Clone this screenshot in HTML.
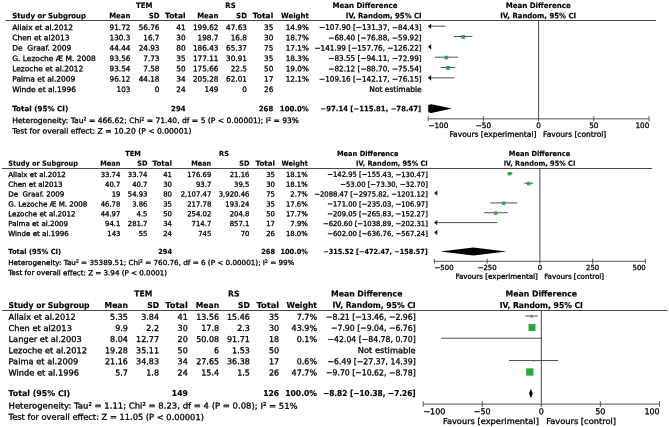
<!DOCTYPE html>
<html lang="en">
<head>
<meta charset="utf-8">
<title>Forest plots</title>
<style>
html,body{margin:0;padding:0;background:#fff;}
body{width:669px;height:427px;overflow:hidden;}
svg{display:block;}
text{font-family:"DejaVu Sans", "Liberation Sans", sans-serif;font-size:7.4px;fill:#000;stroke:#000;stroke-width:0.3px;}
text.b{font-weight:bold;stroke-width:0.15px;}
text.e{text-anchor:end;}
text.s{text-anchor:start;}
text.m{text-anchor:middle;}
</style>
</head>
<body>
<svg width="669" height="427" viewBox="0 0 669 427">
<rect x="0" y="0" width="669" height="427" fill="#ffffff"/>
<g>
<text class="b m" transform="translate(144.20 7.90) rotate(0.03) scale(0.94 1)">TEM</text>
<text class="b m" transform="translate(230.50 7.90) rotate(0.03) scale(0.94 1)">RS</text>
<text class="b m" transform="translate(365.00 7.90) rotate(0.03) scale(0.955 1)">Mean Difference</text>
<text class="b m" transform="translate(538.20 7.90) rotate(0.03) scale(0.955 1)">Mean Difference</text>
<text class="b s" transform="translate(12.20 18.20) rotate(0.03) scale(0.94 1)">Study or Subgroup</text>
<text class="b e" transform="translate(130.40 18.20) rotate(0.03) scale(0.94 1)">Mean</text>
<text class="b e" transform="translate(159.50 18.20) rotate(0.03) scale(0.94 1)">SD</text>
<text class="b e" transform="translate(185.60 18.20) rotate(0.03) scale(1.02 1)">Total</text>
<text class="b e" transform="translate(218.40 18.20) rotate(0.03) scale(0.94 1)">Mean</text>
<text class="b e" transform="translate(246.90 18.20) rotate(0.03) scale(0.94 1)">SD</text>
<text class="b e" transform="translate(273.30 18.20) rotate(0.03) scale(1.02 1)">Total</text>
<text class="b e" transform="translate(308.80 18.20) rotate(0.03) scale(0.94 1)">Weight</text>
<text class="b e" transform="translate(421.70 18.20) rotate(0.03) scale(0.94 1)">IV, Random, 95% CI</text>
<text class="b m" transform="translate(538.20 18.20) rotate(0.03) scale(0.94 1)">IV, Random, 95% CI</text>
<line x1="5.60" y1="20.50" x2="655.90" y2="20.50" stroke="#333" stroke-width="0.9"/>
<text class="r s" transform="translate(12.20 29.90) rotate(0.03) scale(1.015 1)">Allaix et al.2012</text>
<text class="r e" transform="translate(130.40 29.90) rotate(0.03) scale(0.985 1)">91.72</text>
<text class="r e" transform="translate(159.50 29.90) rotate(0.03) scale(0.985 1)">56.76</text>
<text class="r e" transform="translate(185.60 29.90) rotate(0.03) scale(0.985 1)">41</text>
<text class="r e" transform="translate(218.40 29.90) rotate(0.03) scale(0.985 1)">199.62</text>
<text class="r e" transform="translate(246.90 29.90) rotate(0.03) scale(0.985 1)">47.63</text>
<text class="r e" transform="translate(273.30 29.90) rotate(0.03) scale(0.985 1)">35</text>
<text class="r e" transform="translate(308.80 29.90) rotate(0.03) scale(0.985 1)">14.9%</text>
<text class="r e" transform="translate(421.70 29.90) rotate(0.03) scale(0.985 1)">−107.90 [−131.37, −84.43]</text>
<line x1="428.20" y1="26.20" x2="445.39" y2="26.20" stroke="#333" stroke-width="0.85"/>
<polygon points="428.00,26.20 431.20,23.40 431.20,29.00" fill="#111"/>
<text class="r s" transform="translate(12.20 40.23) rotate(0.03) scale(1.015 1)">Chen et al2013</text>
<text class="r e" transform="translate(130.40 40.23) rotate(0.03) scale(0.985 1)">130.3</text>
<text class="r e" transform="translate(159.50 40.23) rotate(0.03) scale(0.985 1)">16.7</text>
<text class="r e" transform="translate(185.60 40.23) rotate(0.03) scale(0.985 1)">30</text>
<text class="r e" transform="translate(218.40 40.23) rotate(0.03) scale(0.985 1)">198.7</text>
<text class="r e" transform="translate(246.90 40.23) rotate(0.03) scale(0.985 1)">16.8</text>
<text class="r e" transform="translate(273.30 40.23) rotate(0.03) scale(0.985 1)">30</text>
<text class="r e" transform="translate(308.80 40.23) rotate(0.03) scale(0.985 1)">18.7%</text>
<text class="r e" transform="translate(421.70 40.23) rotate(0.03) scale(0.985 1)">−68.40 [−76.88, −59.92]</text>
<line x1="453.72" y1="36.53" x2="472.45" y2="36.53" stroke="#333" stroke-width="0.85"/>
<rect x="461.24" y="35.03" width="3.70" height="3.70" fill="#2aa83a"/>
<text class="r s" transform="translate(12.20 50.56) rotate(0.03) scale(1.015 1)">De  Graaf. 2009</text>
<text class="r e" transform="translate(130.40 50.56) rotate(0.03) scale(0.985 1)">44.44</text>
<text class="r e" transform="translate(159.50 50.56) rotate(0.03) scale(0.985 1)">24.93</text>
<text class="r e" transform="translate(185.60 50.56) rotate(0.03) scale(0.985 1)">80</text>
<text class="r e" transform="translate(218.40 50.56) rotate(0.03) scale(0.985 1)">186.43</text>
<text class="r e" transform="translate(246.90 50.56) rotate(0.03) scale(0.985 1)">65.37</text>
<text class="r e" transform="translate(273.30 50.56) rotate(0.03) scale(0.985 1)">75</text>
<text class="r e" transform="translate(308.80 50.56) rotate(0.03) scale(0.985 1)">17.1%</text>
<text class="r e" transform="translate(421.70 50.56) rotate(0.03) scale(0.985 1)">−141.99 [−157.76, −126.22]</text>
<polygon points="428.00,46.86 431.20,44.06 431.20,49.66" fill="#111"/>
<text class="r s" transform="translate(12.20 60.89) rotate(0.03) scale(1.015 1)">G. Lezoche Æ M. 2008</text>
<text class="r e" transform="translate(130.40 60.89) rotate(0.03) scale(0.985 1)">93.56</text>
<text class="r e" transform="translate(159.50 60.89) rotate(0.03) scale(0.985 1)">7.73</text>
<text class="r e" transform="translate(185.60 60.89) rotate(0.03) scale(0.985 1)">35</text>
<text class="r e" transform="translate(218.40 60.89) rotate(0.03) scale(0.985 1)">177.11</text>
<text class="r e" transform="translate(246.90 60.89) rotate(0.03) scale(0.985 1)">30.91</text>
<text class="r e" transform="translate(273.30 60.89) rotate(0.03) scale(0.985 1)">35</text>
<text class="r e" transform="translate(308.80 60.89) rotate(0.03) scale(0.985 1)">18.3%</text>
<text class="r e" transform="translate(421.70 60.89) rotate(0.03) scale(0.985 1)">−83.55 [−94.11, −72.99]</text>
<line x1="434.70" y1="57.19" x2="458.02" y2="57.19" stroke="#333" stroke-width="0.85"/>
<rect x="444.56" y="55.74" width="3.60" height="3.60" fill="#2aa83a"/>
<text class="r s" transform="translate(12.20 71.22) rotate(0.03) scale(1.015 1)">Lezoche et al.2012</text>
<text class="r e" transform="translate(130.40 71.22) rotate(0.03) scale(0.985 1)">93.54</text>
<text class="r e" transform="translate(159.50 71.22) rotate(0.03) scale(0.985 1)">7.58</text>
<text class="r e" transform="translate(185.60 71.22) rotate(0.03) scale(0.985 1)">50</text>
<text class="r e" transform="translate(218.40 71.22) rotate(0.03) scale(0.985 1)">175.66</text>
<text class="r e" transform="translate(246.90 71.22) rotate(0.03) scale(0.985 1)">22.5</text>
<text class="r e" transform="translate(273.30 71.22) rotate(0.03) scale(0.985 1)">50</text>
<text class="r e" transform="translate(308.80 71.22) rotate(0.03) scale(0.985 1)">19.0%</text>
<text class="r e" transform="translate(421.70 71.22) rotate(0.03) scale(0.985 1)">−82.12 [−88.70, −75.54]</text>
<line x1="440.68" y1="67.52" x2="455.20" y2="67.52" stroke="#333" stroke-width="0.85"/>
<rect x="446.04" y="65.97" width="3.80" height="3.80" fill="#2aa83a"/>
<text class="r s" transform="translate(12.20 81.55) rotate(0.03) scale(1.015 1)">Palma et al.2009</text>
<text class="r e" transform="translate(130.40 81.55) rotate(0.03) scale(0.985 1)">96.12</text>
<text class="r e" transform="translate(159.50 81.55) rotate(0.03) scale(0.985 1)">44.18</text>
<text class="r e" transform="translate(185.60 81.55) rotate(0.03) scale(0.985 1)">34</text>
<text class="r e" transform="translate(218.40 81.55) rotate(0.03) scale(0.985 1)">205.28</text>
<text class="r e" transform="translate(246.90 81.55) rotate(0.03) scale(0.985 1)">62.01</text>
<text class="r e" transform="translate(273.30 81.55) rotate(0.03) scale(0.985 1)">17</text>
<text class="r e" transform="translate(308.80 81.55) rotate(0.03) scale(0.985 1)">12.1%</text>
<text class="r e" transform="translate(421.70 81.55) rotate(0.03) scale(0.985 1)">−109.16 [−142.17, −76.15]</text>
<line x1="428.20" y1="77.85" x2="454.53" y2="77.85" stroke="#333" stroke-width="0.85"/>
<polygon points="428.00,77.85 431.20,75.05 431.20,80.65" fill="#111"/>
<text class="r s" transform="translate(12.20 91.88) rotate(0.03) scale(1.015 1)">Winde et al.1996</text>
<text class="r e" transform="translate(130.40 91.88) rotate(0.03) scale(0.985 1)">103</text>
<text class="r e" transform="translate(159.50 91.88) rotate(0.03) scale(0.985 1)">0</text>
<text class="r e" transform="translate(185.60 91.88) rotate(0.03) scale(0.985 1)">24</text>
<text class="r e" transform="translate(218.40 91.88) rotate(0.03) scale(0.985 1)">149</text>
<text class="r e" transform="translate(246.90 91.88) rotate(0.03) scale(0.985 1)">0</text>
<text class="r e" transform="translate(273.30 91.88) rotate(0.03) scale(0.985 1)">26</text>
<text class="r e" transform="translate(421.70 91.88) rotate(0.03) scale(1.015 1)">Not estimable</text>
<text class="b s" transform="translate(12.20 111.30) rotate(0.03) scale(0.967 1)">Total (95% CI)</text>
<text class="b e" transform="translate(185.60 111.30) rotate(0.03) scale(0.94 1)">294</text>
<text class="b e" transform="translate(273.30 111.30) rotate(0.03) scale(0.94 1)">268</text>
<text class="b e" transform="translate(308.80 111.30) rotate(0.03) scale(0.94 1)">100.0%</text>
<text class="b e" transform="translate(421.20 111.30) rotate(0.03) scale(0.928 1)">−97.14 [−115.81, −78.47]</text>
<polygon points="428.20,104.96 431.36,104.30 451.97,108.60 431.36,112.90 428.20,112.24" fill="#000"/>
<text class="r s" transform="translate(12.20 122.90) rotate(0.03) scale(1.025 1)" style="font-size:7.400px"><tspan>Heterogeneity: Tau</tspan><tspan dy="-2.60" style="font-size:4.59px">2</tspan><tspan dy="2.60"> = 466.62; Chi</tspan><tspan dy="-2.60" style="font-size:4.59px">2</tspan><tspan dy="2.60"> = 71.40, df = 5 (P &lt; 0.00001); I</tspan><tspan dy="-2.60" style="font-size:4.59px">2</tspan><tspan dy="2.60"> = 93%</tspan></text>
<text class="r s" transform="translate(12.20 133.40) rotate(0.03) scale(1.03 1)">Test for overall effect: Z = 10.20 (P &lt; 0.00001)</text>
<line x1="428.20" y1="118.85" x2="649.00" y2="118.85" stroke="#555" stroke-width="1"/>
<line x1="538.60" y1="20.50" x2="538.60" y2="121.25" stroke="#333" stroke-width="0.9"/>
<line x1="428.20" y1="116.15" x2="428.20" y2="121.35" stroke="#444" stroke-width="0.9"/>
<text class="r s" transform="translate(428.40 127.90) rotate(0.03) scale(0.985 1)">−100</text>
<line x1="483.40" y1="116.15" x2="483.40" y2="121.35" stroke="#444" stroke-width="0.9"/>
<text class="r m" transform="translate(483.40 127.90) rotate(0.03) scale(0.985 1)">−50</text>
<text class="r m" transform="translate(538.60 127.90) rotate(0.03) scale(0.985 1)">0</text>
<line x1="593.80" y1="116.15" x2="593.80" y2="121.35" stroke="#444" stroke-width="0.9"/>
<text class="r m" transform="translate(593.80 127.90) rotate(0.03) scale(0.985 1)">50</text>
<line x1="649.00" y1="116.15" x2="649.00" y2="121.35" stroke="#444" stroke-width="0.9"/>
<text class="r e" transform="translate(649.30 127.90) rotate(0.03) scale(0.985 1)">100</text>
<text class="r e" transform="translate(536.40 136.70) rotate(0.03) scale(1.015 1)">Favours [experimental]</text>
<text class="r s" transform="translate(543.10 136.70) rotate(0.03) scale(1.015 1)">Favours [control]</text>
</g>
<g>
<text class="b m" transform="translate(133.00 156.00) rotate(0.03) scale(0.94 1)" style="font-size:7px">TEM</text>
<text class="b m" transform="translate(224.00 156.00) rotate(0.03) scale(0.94 1)" style="font-size:7px">RS</text>
<text class="b m" transform="translate(367.70 156.00) rotate(0.03) scale(0.955 1)" style="font-size:7px">Mean Difference</text>
<text class="b m" transform="translate(539.50 156.00) rotate(0.03) scale(0.955 1)" style="font-size:7px">Mean Difference</text>
<text class="b s" transform="translate(8.20 165.73) rotate(0.03) scale(0.94 1)" style="font-size:7px">Study or Subgroup</text>
<text class="b e" transform="translate(120.40 165.73) rotate(0.03) scale(0.94 1)" style="font-size:7px">Mean</text>
<text class="b e" transform="translate(147.50 165.73) rotate(0.03) scale(0.94 1)" style="font-size:7px">SD</text>
<text class="b e" transform="translate(172.00 165.73) rotate(0.03) scale(1.02 1)" style="font-size:7px">Total</text>
<text class="b e" transform="translate(211.30 165.73) rotate(0.03) scale(0.94 1)" style="font-size:7px">Mean</text>
<text class="b e" transform="translate(249.40 165.73) rotate(0.03) scale(0.94 1)" style="font-size:7px">SD</text>
<text class="b e" transform="translate(275.00 165.73) rotate(0.03) scale(1.02 1)" style="font-size:7px">Total</text>
<text class="b e" transform="translate(307.80 165.73) rotate(0.03) scale(0.94 1)" style="font-size:7px">Weight</text>
<text class="b e" transform="translate(427.80 165.73) rotate(0.03) scale(0.94 1)" style="font-size:7px">IV, Random, 95% CI</text>
<text class="b m" transform="translate(539.50 165.73) rotate(0.03) scale(0.94 1)" style="font-size:7px">IV, Random, 95% CI</text>
<line x1="2.00" y1="168.50" x2="652.10" y2="168.50" stroke="#333" stroke-width="0.9"/>
<text class="r s" transform="translate(8.20 176.90) rotate(0.03) scale(1.015 1)" style="font-size:7px">Allaix et al.2012</text>
<text class="r e" transform="translate(120.40 176.90) rotate(0.03) scale(0.985 1)" style="font-size:7px">33.74</text>
<text class="r e" transform="translate(147.50 176.90) rotate(0.03) scale(0.985 1)" style="font-size:7px">33.74</text>
<text class="r e" transform="translate(172.00 176.90) rotate(0.03) scale(0.985 1)" style="font-size:7px">41</text>
<text class="r e" transform="translate(211.30 176.90) rotate(0.03) scale(0.985 1)" style="font-size:7px">176.69</text>
<text class="r e" transform="translate(249.40 176.90) rotate(0.03) scale(0.985 1)" style="font-size:7px">21.16</text>
<text class="r e" transform="translate(275.00 176.90) rotate(0.03) scale(0.985 1)" style="font-size:7px">35</text>
<text class="r e" transform="translate(307.80 176.90) rotate(0.03) scale(0.985 1)" style="font-size:7px">18.1%</text>
<text class="r e" transform="translate(427.80 176.90) rotate(0.03) scale(0.975 1)" style="font-size:7px">−142.95 [−155.43, −130.47]</text>
<line x1="507.10" y1="173.40" x2="512.37" y2="173.40" stroke="#333" stroke-width="0.85"/>
<rect x="508.04" y="172.05" width="3.40" height="3.40" fill="#2aa83a"/>
<text class="r s" transform="translate(8.20 186.74) rotate(0.03) scale(1.015 1)" style="font-size:7px">Chen et al2013</text>
<text class="r e" transform="translate(120.40 186.74) rotate(0.03) scale(0.985 1)" style="font-size:7px">40.7</text>
<text class="r e" transform="translate(147.50 186.74) rotate(0.03) scale(0.985 1)" style="font-size:7px">40.7</text>
<text class="r e" transform="translate(172.00 186.74) rotate(0.03) scale(0.985 1)" style="font-size:7px">30</text>
<text class="r e" transform="translate(211.30 186.74) rotate(0.03) scale(0.985 1)" style="font-size:7px">93.7</text>
<text class="r e" transform="translate(249.40 186.74) rotate(0.03) scale(0.985 1)" style="font-size:7px">39.5</text>
<text class="r e" transform="translate(275.00 186.74) rotate(0.03) scale(0.985 1)" style="font-size:7px">30</text>
<text class="r e" transform="translate(307.80 186.74) rotate(0.03) scale(0.985 1)" style="font-size:7px">18.1%</text>
<text class="r e" transform="translate(427.80 186.74) rotate(0.03) scale(0.975 1)" style="font-size:7px">−53.00 [−73.30, −32.70]</text>
<line x1="524.43" y1="183.24" x2="533.00" y2="183.24" stroke="#333" stroke-width="0.85"/>
<rect x="527.02" y="181.89" width="3.40" height="3.40" fill="#2aa83a"/>
<text class="r s" transform="translate(8.20 196.58) rotate(0.03) scale(1.015 1)" style="font-size:7px">De  Graaf. 2009</text>
<text class="r e" transform="translate(120.40 196.58) rotate(0.03) scale(0.985 1)" style="font-size:7px">19</text>
<text class="r e" transform="translate(147.50 196.58) rotate(0.03) scale(0.985 1)" style="font-size:7px">54.93</text>
<text class="r e" transform="translate(172.00 196.58) rotate(0.03) scale(0.985 1)" style="font-size:7px">80</text>
<text class="r e" transform="translate(211.30 196.58) rotate(0.03) scale(0.985 1)" style="font-size:7px">2,107.47</text>
<text class="r e" transform="translate(249.40 196.58) rotate(0.03) scale(0.985 1)" style="font-size:7px">3,920.46</text>
<text class="r e" transform="translate(275.00 196.58) rotate(0.03) scale(0.985 1)" style="font-size:7px">75</text>
<text class="r e" transform="translate(307.80 196.58) rotate(0.03) scale(0.985 1)" style="font-size:7px">2.7%</text>
<text class="r e" transform="translate(427.80 196.58) rotate(0.03) scale(0.975 1)" style="font-size:7px">−2088.47 [−2975.82, −1201.12]</text>
<polygon points="434.20,193.08 437.24,190.43 437.24,195.73" fill="#111"/>
<text class="r s" transform="translate(8.20 206.42) rotate(0.03) scale(1.015 1)" style="font-size:7px">G. Lezoche Æ M. 2008</text>
<text class="r e" transform="translate(120.40 206.42) rotate(0.03) scale(0.985 1)" style="font-size:7px">46.78</text>
<text class="r e" transform="translate(147.50 206.42) rotate(0.03) scale(0.985 1)" style="font-size:7px">3.86</text>
<text class="r e" transform="translate(172.00 206.42) rotate(0.03) scale(0.985 1)" style="font-size:7px">35</text>
<text class="r e" transform="translate(211.30 206.42) rotate(0.03) scale(0.985 1)" style="font-size:7px">217.78</text>
<text class="r e" transform="translate(249.40 206.42) rotate(0.03) scale(0.985 1)" style="font-size:7px">193.24</text>
<text class="r e" transform="translate(275.00 206.42) rotate(0.03) scale(0.985 1)" style="font-size:7px">35</text>
<text class="r e" transform="translate(307.80 206.42) rotate(0.03) scale(0.985 1)" style="font-size:7px">17.6%</text>
<text class="r e" transform="translate(427.80 206.42) rotate(0.03) scale(0.975 1)" style="font-size:7px">−171.00 [−235.03, −106.97]</text>
<line x1="490.31" y1="202.92" x2="517.33" y2="202.92" stroke="#333" stroke-width="0.85"/>
<rect x="502.14" y="201.59" width="3.35" height="3.35" fill="#2aa83a"/>
<text class="r s" transform="translate(8.20 216.26) rotate(0.03) scale(1.015 1)" style="font-size:7px">Lezoche et al.2012</text>
<text class="r e" transform="translate(120.40 216.26) rotate(0.03) scale(0.985 1)" style="font-size:7px">44.97</text>
<text class="r e" transform="translate(147.50 216.26) rotate(0.03) scale(0.985 1)" style="font-size:7px">4.5</text>
<text class="r e" transform="translate(172.00 216.26) rotate(0.03) scale(0.985 1)" style="font-size:7px">50</text>
<text class="r e" transform="translate(211.30 216.26) rotate(0.03) scale(0.985 1)" style="font-size:7px">254.02</text>
<text class="r e" transform="translate(249.40 216.26) rotate(0.03) scale(0.985 1)" style="font-size:7px">204.8</text>
<text class="r e" transform="translate(275.00 216.26) rotate(0.03) scale(0.985 1)" style="font-size:7px">50</text>
<text class="r e" transform="translate(307.80 216.26) rotate(0.03) scale(0.985 1)" style="font-size:7px">17.7%</text>
<text class="r e" transform="translate(427.80 216.26) rotate(0.03) scale(0.975 1)" style="font-size:7px">−209.05 [−265.83, −152.27]</text>
<line x1="483.81" y1="212.76" x2="507.77" y2="212.76" stroke="#333" stroke-width="0.85"/>
<rect x="494.12" y="211.43" width="3.35" height="3.35" fill="#2aa83a"/>
<text class="r s" transform="translate(8.20 226.10) rotate(0.03) scale(1.015 1)" style="font-size:7px">Palma et al.2009</text>
<text class="r e" transform="translate(120.40 226.10) rotate(0.03) scale(0.985 1)" style="font-size:7px">94.1</text>
<text class="r e" transform="translate(147.50 226.10) rotate(0.03) scale(0.985 1)" style="font-size:7px">281.7</text>
<text class="r e" transform="translate(172.00 226.10) rotate(0.03) scale(0.985 1)" style="font-size:7px">34</text>
<text class="r e" transform="translate(211.30 226.10) rotate(0.03) scale(0.985 1)" style="font-size:7px">714.7</text>
<text class="r e" transform="translate(249.40 226.10) rotate(0.03) scale(0.985 1)" style="font-size:7px">857.1</text>
<text class="r e" transform="translate(275.00 226.10) rotate(0.03) scale(0.985 1)" style="font-size:7px">17</text>
<text class="r e" transform="translate(307.80 226.10) rotate(0.03) scale(0.985 1)" style="font-size:7px">7.9%</text>
<text class="r e" transform="translate(427.80 226.10) rotate(0.03) scale(0.975 1)" style="font-size:7px">−620.60 [−1038.89, −202.31]</text>
<line x1="434.40" y1="222.60" x2="497.21" y2="222.60" stroke="#333" stroke-width="0.85"/>
<polygon points="434.20,222.60 437.24,219.95 437.24,225.25" fill="#111"/>
<text class="r s" transform="translate(8.20 235.94) rotate(0.03) scale(1.015 1)" style="font-size:7px">Winde et al.1996</text>
<text class="r e" transform="translate(120.40 235.94) rotate(0.03) scale(0.985 1)" style="font-size:7px">143</text>
<text class="r e" transform="translate(147.50 235.94) rotate(0.03) scale(0.985 1)" style="font-size:7px">55</text>
<text class="r e" transform="translate(172.00 235.94) rotate(0.03) scale(0.985 1)" style="font-size:7px">24</text>
<text class="r e" transform="translate(211.30 235.94) rotate(0.03) scale(0.985 1)" style="font-size:7px">745</text>
<text class="r e" transform="translate(249.40 235.94) rotate(0.03) scale(0.985 1)" style="font-size:7px">70</text>
<text class="r e" transform="translate(275.00 235.94) rotate(0.03) scale(0.985 1)" style="font-size:7px">26</text>
<text class="r e" transform="translate(307.80 235.94) rotate(0.03) scale(0.985 1)" style="font-size:7px">18.0%</text>
<text class="r e" transform="translate(427.80 235.94) rotate(0.03) scale(0.975 1)" style="font-size:7px">−602.00 [−636.76, −567.24]</text>
<polygon points="434.20,232.44 437.24,229.79 437.24,235.09" fill="#111"/>
<text class="b s" transform="translate(8.20 253.95) rotate(0.03) scale(0.967 1)" style="font-size:7px">Total (95% CI)</text>
<text class="b e" transform="translate(172.00 253.95) rotate(0.03) scale(0.94 1)" style="font-size:7px">294</text>
<text class="b e" transform="translate(275.00 253.95) rotate(0.03) scale(0.94 1)" style="font-size:7px">268</text>
<text class="b e" transform="translate(307.80 253.95) rotate(0.03) scale(0.94 1)" style="font-size:7px">100.0%</text>
<text class="b e" transform="translate(427.80 253.95) rotate(0.03) scale(0.93 1)" style="font-size:7px">−315.52 [−472.47, −158.57]</text>
<polygon points="440.21,251.50 473.33,247.43 506.44,251.50 473.33,255.57" fill="#000"/>
<text class="r s" transform="translate(8.20 264.95) rotate(0.03) scale(1.03 1)" style="font-size:7.000px"><tspan>Heterogeneity: Tau</tspan><tspan dy="-2.46" style="font-size:4.34px">2</tspan><tspan dy="2.46"> = 35389.51; Chi</tspan><tspan dy="-2.46" style="font-size:4.34px">2</tspan><tspan dy="2.46"> = 760.76, df = 6 (P &lt; 0.00001); I</tspan><tspan dy="-2.46" style="font-size:4.34px">2</tspan><tspan dy="2.46"> = 99%</tspan></text>
<text class="r s" transform="translate(8.20 275.10) rotate(0.03) scale(1.02 1)" style="font-size:7px">Test for overall effect: Z = 3.94 (P &lt; 0.0001)</text>
<line x1="434.40" y1="261.30" x2="645.40" y2="261.30" stroke="#555" stroke-width="1"/>
<line x1="539.90" y1="168.50" x2="539.90" y2="263.57" stroke="#333" stroke-width="0.9"/>
<line x1="434.40" y1="258.75" x2="434.40" y2="263.67" stroke="#444" stroke-width="0.9"/>
<text class="r s" transform="translate(434.60 270.00) rotate(0.03) scale(0.985 1)" style="font-size:7px">−500</text>
<line x1="487.15" y1="258.75" x2="487.15" y2="263.67" stroke="#444" stroke-width="0.9"/>
<text class="r m" transform="translate(487.15 270.00) rotate(0.03) scale(0.985 1)" style="font-size:7px">−250</text>
<text class="r m" transform="translate(539.90 270.00) rotate(0.03) scale(0.985 1)" style="font-size:7px">0</text>
<line x1="592.65" y1="258.75" x2="592.65" y2="263.67" stroke="#444" stroke-width="0.9"/>
<text class="r m" transform="translate(592.65 270.00) rotate(0.03) scale(0.985 1)" style="font-size:7px">250</text>
<line x1="645.40" y1="258.75" x2="645.40" y2="263.67" stroke="#444" stroke-width="0.9"/>
<text class="r e" transform="translate(645.70 270.00) rotate(0.03) scale(0.985 1)" style="font-size:7px">500</text>
<text class="r e" transform="translate(537.82 278.70) rotate(0.03) scale(1.015 1)" style="font-size:7px">Favours [experimental]</text>
<text class="r s" transform="translate(544.16 278.70) rotate(0.03) scale(1.015 1)" style="font-size:7px">Favours [control]</text>
</g>
<g>
<text class="b m" transform="translate(143.30 296.40) rotate(0.03) scale(0.94 1)" style="font-size:8.14px">TEM</text>
<text class="b m" transform="translate(233.80 296.40) rotate(0.03) scale(0.94 1)" style="font-size:8.14px">RS</text>
<text class="b m" transform="translate(366.70 296.40) rotate(0.03) scale(0.955 1)" style="font-size:8.14px">Mean Difference</text>
<text class="b m" transform="translate(541.30 296.40) rotate(0.03) scale(0.955 1)" style="font-size:8.14px">Mean Difference</text>
<text class="b s" transform="translate(8.50 307.90) rotate(0.03) scale(0.94 1)" style="font-size:8.14px">Study or Subgroup</text>
<text class="b e" transform="translate(127.90 307.90) rotate(0.03) scale(0.94 1)" style="font-size:8.14px">Mean</text>
<text class="b e" transform="translate(159.00 307.90) rotate(0.03) scale(0.94 1)" style="font-size:8.14px">SD</text>
<text class="b e" transform="translate(187.80 307.90) rotate(0.03) scale(1.02 1)" style="font-size:8.14px">Total</text>
<text class="b e" transform="translate(219.10 307.90) rotate(0.03) scale(0.94 1)" style="font-size:8.14px">Mean</text>
<text class="b e" transform="translate(249.90 307.90) rotate(0.03) scale(0.94 1)" style="font-size:8.14px">SD</text>
<text class="b e" transform="translate(279.10 307.90) rotate(0.03) scale(1.02 1)" style="font-size:8.14px">Total</text>
<text class="b e" transform="translate(317.00 307.90) rotate(0.03) scale(0.94 1)" style="font-size:8.14px">Weight</text>
<text class="b e" transform="translate(415.70 307.90) rotate(0.03) scale(0.94 1)" style="font-size:8.14px">IV, Random, 95% CI</text>
<text class="b m" transform="translate(541.30 307.90) rotate(0.03) scale(0.94 1)" style="font-size:8.14px">IV, Random, 95% CI</text>
<line x1="2.00" y1="310.50" x2="667.30" y2="310.50" stroke="#333" stroke-width="0.9"/>
<text class="r s" transform="translate(8.50 319.75) rotate(0.03) scale(1.018 1)" style="font-size:8.14px">Allaix et al.2012</text>
<text class="r e" transform="translate(127.90 319.75) rotate(0.03) scale(0.985 1)" style="font-size:8.14px">5.35</text>
<text class="r e" transform="translate(159.00 319.75) rotate(0.03) scale(0.985 1)" style="font-size:8.14px">3.84</text>
<text class="r e" transform="translate(187.80 319.75) rotate(0.03) scale(0.985 1)" style="font-size:8.14px">41</text>
<text class="r e" transform="translate(219.10 319.75) rotate(0.03) scale(0.985 1)" style="font-size:8.14px">13.56</text>
<text class="r e" transform="translate(249.90 319.75) rotate(0.03) scale(0.985 1)" style="font-size:8.14px">15.46</text>
<text class="r e" transform="translate(279.10 319.75) rotate(0.03) scale(0.985 1)" style="font-size:8.14px">35</text>
<text class="r e" transform="translate(317.00 319.75) rotate(0.03) scale(0.985 1)" style="font-size:8.14px">7.7%</text>
<text class="r e" transform="translate(415.70 319.75) rotate(0.03) scale(0.955 1)" style="font-size:8.14px">−8.21 [−13.46, −2.96]</text>
<line x1="525.40" y1="316.00" x2="537.80" y2="316.00" stroke="#333" stroke-width="0.85"/>
<rect x="530.40" y="315.15" width="2.40" height="2.40" fill="#2aa83a"/>
<text class="r s" transform="translate(8.50 330.88) rotate(0.03) scale(1.018 1)" style="font-size:8.14px">Chen et al2013</text>
<text class="r e" transform="translate(127.90 330.88) rotate(0.03) scale(0.985 1)" style="font-size:8.14px">9.9</text>
<text class="r e" transform="translate(159.00 330.88) rotate(0.03) scale(0.985 1)" style="font-size:8.14px">2.2</text>
<text class="r e" transform="translate(187.80 330.88) rotate(0.03) scale(0.985 1)" style="font-size:8.14px">30</text>
<text class="r e" transform="translate(219.10 330.88) rotate(0.03) scale(0.985 1)" style="font-size:8.14px">17.8</text>
<text class="r e" transform="translate(249.90 330.88) rotate(0.03) scale(0.985 1)" style="font-size:8.14px">2.3</text>
<text class="r e" transform="translate(279.10 330.88) rotate(0.03) scale(0.985 1)" style="font-size:8.14px">30</text>
<text class="r e" transform="translate(317.00 330.88) rotate(0.03) scale(0.985 1)" style="font-size:8.14px">43.9%</text>
<text class="r e" transform="translate(415.70 330.88) rotate(0.03) scale(0.955 1)" style="font-size:8.14px">−7.90 [−9.04, −6.76]</text>
<line x1="530.62" y1="327.13" x2="533.32" y2="327.13" stroke="#333" stroke-width="0.85"/>
<rect x="528.47" y="323.98" width="7.00" height="7.00" fill="#2aa83a"/>
<text class="r s" transform="translate(8.50 342.01) rotate(0.03) scale(1.018 1)" style="font-size:8.14px">Langer et al.2003</text>
<text class="r e" transform="translate(127.90 342.01) rotate(0.03) scale(0.985 1)" style="font-size:8.14px">8.04</text>
<text class="r e" transform="translate(159.00 342.01) rotate(0.03) scale(0.985 1)" style="font-size:8.14px">12.77</text>
<text class="r e" transform="translate(187.80 342.01) rotate(0.03) scale(0.985 1)" style="font-size:8.14px">20</text>
<text class="r e" transform="translate(219.10 342.01) rotate(0.03) scale(0.985 1)" style="font-size:8.14px">50.08</text>
<text class="r e" transform="translate(249.90 342.01) rotate(0.03) scale(0.985 1)" style="font-size:8.14px">91.71</text>
<text class="r e" transform="translate(279.10 342.01) rotate(0.03) scale(0.985 1)" style="font-size:8.14px">18</text>
<text class="r e" transform="translate(317.00 342.01) rotate(0.03) scale(0.985 1)" style="font-size:8.14px">0.1%</text>
<text class="r e" transform="translate(415.70 342.01) rotate(0.03) scale(0.955 1)" style="font-size:8.14px">−42.04 [−84.78, 0.70]</text>
<line x1="441.17" y1="338.26" x2="542.13" y2="338.26" stroke="#333" stroke-width="0.85"/>
<rect x="491.05" y="338.01" width="1.20" height="1.20" fill="#2aa83a"/>
<text class="r s" transform="translate(8.50 353.14) rotate(0.03) scale(1.018 1)" style="font-size:8.14px">Lezoche et al.2012</text>
<text class="r e" transform="translate(127.90 353.14) rotate(0.03) scale(0.985 1)" style="font-size:8.14px">19.28</text>
<text class="r e" transform="translate(159.00 353.14) rotate(0.03) scale(0.985 1)" style="font-size:8.14px">35.11</text>
<text class="r e" transform="translate(187.80 353.14) rotate(0.03) scale(0.985 1)" style="font-size:8.14px">50</text>
<text class="r e" transform="translate(219.10 353.14) rotate(0.03) scale(0.985 1)" style="font-size:8.14px">6</text>
<text class="r e" transform="translate(249.90 353.14) rotate(0.03) scale(0.985 1)" style="font-size:8.14px">1.53</text>
<text class="r e" transform="translate(279.10 353.14) rotate(0.03) scale(0.985 1)" style="font-size:8.14px">50</text>
<text class="r e" transform="translate(415.70 353.14) rotate(0.03) scale(1.018 1)" style="font-size:8.14px">Not estimable</text>
<text class="r s" transform="translate(8.50 364.27) rotate(0.03) scale(1.018 1)" style="font-size:8.14px">Palma et al.2009</text>
<text class="r e" transform="translate(127.90 364.27) rotate(0.03) scale(0.985 1)" style="font-size:8.14px">21.16</text>
<text class="r e" transform="translate(159.00 364.27) rotate(0.03) scale(0.985 1)" style="font-size:8.14px">34.83</text>
<text class="r e" transform="translate(187.80 364.27) rotate(0.03) scale(0.985 1)" style="font-size:8.14px">34</text>
<text class="r e" transform="translate(219.10 364.27) rotate(0.03) scale(0.985 1)" style="font-size:8.14px">27.65</text>
<text class="r e" transform="translate(249.90 364.27) rotate(0.03) scale(0.985 1)" style="font-size:8.14px">36.38</text>
<text class="r e" transform="translate(279.10 364.27) rotate(0.03) scale(0.985 1)" style="font-size:8.14px">17</text>
<text class="r e" transform="translate(317.00 364.27) rotate(0.03) scale(0.985 1)" style="font-size:8.14px">0.6%</text>
<text class="r e" transform="translate(415.70 364.27) rotate(0.03) scale(0.955 1)" style="font-size:8.14px">−6.49 [−27.37, 14.39]</text>
<line x1="508.98" y1="360.52" x2="558.29" y2="360.52" stroke="#333" stroke-width="0.85"/>
<rect x="532.89" y="360.12" width="1.50" height="1.50" fill="#2aa83a"/>
<text class="r s" transform="translate(8.50 375.40) rotate(0.03) scale(1.018 1)" style="font-size:8.14px">Winde et al.1996</text>
<text class="r e" transform="translate(127.90 375.40) rotate(0.03) scale(0.985 1)" style="font-size:8.14px">5.7</text>
<text class="r e" transform="translate(159.00 375.40) rotate(0.03) scale(0.985 1)" style="font-size:8.14px">1.8</text>
<text class="r e" transform="translate(187.80 375.40) rotate(0.03) scale(0.985 1)" style="font-size:8.14px">24</text>
<text class="r e" transform="translate(219.10 375.40) rotate(0.03) scale(0.985 1)" style="font-size:8.14px">15.4</text>
<text class="r e" transform="translate(249.90 375.40) rotate(0.03) scale(0.985 1)" style="font-size:8.14px">1.5</text>
<text class="r e" transform="translate(279.10 375.40) rotate(0.03) scale(0.985 1)" style="font-size:8.14px">26</text>
<text class="r e" transform="translate(317.00 375.40) rotate(0.03) scale(0.985 1)" style="font-size:8.14px">47.7%</text>
<text class="r e" transform="translate(415.70 375.40) rotate(0.03) scale(0.955 1)" style="font-size:8.14px">−9.70 [−10.62, −8.78]</text>
<line x1="528.76" y1="371.65" x2="530.93" y2="371.65" stroke="#333" stroke-width="0.85"/>
<rect x="526.19" y="368.35" width="7.30" height="7.30" fill="#2aa83a"/>
<text class="b s" transform="translate(8.50 396.10) rotate(0.03) scale(0.967 1)" style="font-size:8.14px">Total (95% CI)</text>
<text class="b e" transform="translate(187.80 396.10) rotate(0.03) scale(0.94 1)" style="font-size:8.14px">149</text>
<text class="b e" transform="translate(279.10 396.10) rotate(0.03) scale(0.94 1)" style="font-size:8.14px">126</text>
<text class="b e" transform="translate(317.00 396.10) rotate(0.03) scale(0.94 1)" style="font-size:8.14px">100.0%</text>
<text class="b e" transform="translate(415.70 396.10) rotate(0.03) scale(0.905 1)" style="font-size:8.14px">−8.82 [−10.38, −7.26]</text>
<polygon points="529.04,393.40 530.88,388.67 532.73,393.40 530.88,398.13" fill="#000"/>
<text class="r s" transform="translate(8.50 408.50) rotate(0.03) scale(1.045 1)" style="font-size:8.140px"><tspan>Heterogeneity: Tau</tspan><tspan dy="-2.86" style="font-size:5.05px">2</tspan><tspan dy="2.86"> = 1.11; Chi</tspan><tspan dy="-2.86" style="font-size:5.05px">2</tspan><tspan dy="2.86"> = 8.23, df = 4 (P = 0.08); I</tspan><tspan dy="-2.86" style="font-size:5.05px">2</tspan><tspan dy="2.86"> = 51%</tspan></text>
<text class="r s" transform="translate(8.50 419.80) rotate(0.03) scale(1.02 1)" style="font-size:8.14px">Test for overall effect: Z = 11.05 (P &lt; 0.00001)</text>
<line x1="423.20" y1="404.10" x2="659.40" y2="404.10" stroke="#555" stroke-width="1"/>
<line x1="541.30" y1="310.50" x2="541.30" y2="406.74" stroke="#333" stroke-width="0.9"/>
<line x1="423.20" y1="401.13" x2="423.20" y2="406.85" stroke="#444" stroke-width="0.9"/>
<text class="r s" transform="translate(423.40 414.20) rotate(0.03) scale(0.985 1)" style="font-size:8.14px">−100</text>
<line x1="482.25" y1="401.13" x2="482.25" y2="406.85" stroke="#444" stroke-width="0.9"/>
<text class="r m" transform="translate(482.25 414.20) rotate(0.03) scale(0.985 1)" style="font-size:8.14px">−50</text>
<text class="r m" transform="translate(541.30 414.20) rotate(0.03) scale(0.985 1)" style="font-size:8.14px">0</text>
<line x1="600.35" y1="401.13" x2="600.35" y2="406.85" stroke="#444" stroke-width="0.9"/>
<text class="r m" transform="translate(600.35 414.20) rotate(0.03) scale(0.985 1)" style="font-size:8.14px">50</text>
<line x1="659.40" y1="401.13" x2="659.40" y2="406.85" stroke="#444" stroke-width="0.9"/>
<text class="r e" transform="translate(659.70 414.20) rotate(0.03) scale(0.985 1)" style="font-size:8.14px">100</text>
<text class="r e" transform="translate(538.88 424.00) rotate(0.03) scale(1.018 1)" style="font-size:8.14px">Favours [experimental]</text>
<text class="r s" transform="translate(546.25 424.00) rotate(0.03) scale(1.018 1)" style="font-size:8.14px">Favours [control]</text>
</g>
</svg>
</body>
</html>
